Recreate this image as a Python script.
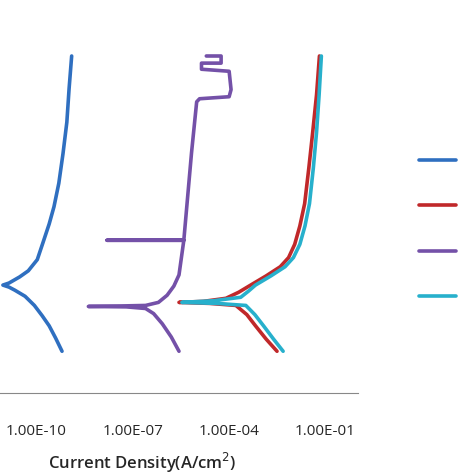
import numpy as np, pandas as pd, seaborn as sns, matplotlib
matplotlib.use("Agg")
import matplotlib.pyplot as plt
from matplotlib.lines import Line2D

sns.set_style("white")
plt.rcParams['font.family'] = ['Open Sans', 'DejaVu Sans']

blue_logi = [-8.90,-8.98,-9.05,-9.17,-9.30,-9.45,-9.60,-9.80,-9.97,-10.25,-10.52,-10.85,-11.04,-10.85,-10.67,-10.35,-10.06,-9.82,-9.60,-9.40,-9.20]
blue_e    = [0.19,0.03,-0.135,-0.29,-0.435,-0.55,-0.635,-0.73,-0.81,-0.865,-0.895,-0.925,-0.935,-0.945,-0.96,-0.99,-1.035,-1.085,-1.135,-1.195,-1.26]
purple_logi = [-5.56,-5.80,-6.08,-6.35,-6.60,-7.20,-8.38,-7.20,-6.60,-6.20,-5.93,-5.72,-5.56,-5.41,-7.80,-5.41,-5.17,-5.01,-4.92,-4.00,-3.94,-4.00,-4.86,-4.86,-4.25,-4.25,-4.71]
purple_e    = [-1.26,-1.19,-1.125,-1.075,-1.05,-1.042,-1.04,-1.037,-1.035,-1.02,-0.985,-0.94,-0.885,-0.715,-0.715,-0.715,-0.285,-0.035,-0.02,-0.01,0.025,0.115,0.125,0.155,0.155,0.19,0.19]
red_logi = [-1.19,-1.28,-1.40,-1.52,-1.65,-1.80,-1.96,-2.15,-2.41,-2.85,-3.33,-3.70,-4.10,-4.80,-5.56,-4.60,-3.79,-3.45,-3.18,-2.85,-2.51]
red_e    = [0.19,0.0,-0.185,-0.36,-0.535,-0.645,-0.735,-0.80,-0.845,-0.89,-0.935,-0.97,-1.0,-1.015,-1.02,-1.025,-1.035,-1.08,-1.135,-1.20,-1.26]
cyan_logi = [-1.13,-1.20,-1.28,-1.38,-1.50,-1.64,-1.80,-2.00,-2.26,-2.70,-3.18,-3.40,-3.64,-4.50,-5.47,-4.40,-3.48,-3.20,-2.93,-2.62,-2.32]
cyan_e    = [0.19,0.0,-0.185,-0.36,-0.535,-0.645,-0.735,-0.80,-0.845,-0.89,-0.935,-0.965,-0.995,-1.012,-1.02,-1.025,-1.035,-1.08,-1.135,-1.20,-1.26]
colors = ["#2f6fc0", "#c0282a", "#7451a8", "#27b0cc"]
ticks = [1e-10, 1e-7, 1e-4, 1e-1]
tick_labels = ["1.00E-10", "1.00E-07", "1.00E-04", "1.00E-01"]

fig = plt.figure(figsize=(4.74, 4.74), dpi=100)
ax = fig.add_axes([0, 81/474, 358/474, 393/474])
for lg, e, c in [(blue_logi, blue_e, colors[0]), (purple_logi, purple_e, colors[2]),
                 (red_logi, red_e, colors[1]), (cyan_logi, cyan_e, colors[3])]:
    df = pd.DataFrame({"i": 10 ** np.array(lg), "e": e})
    sns.lineplot(data=df, x="i", y="e", sort=False, estimator=None, color=c, lw=2.6, ax=ax)
ax.set_xscale("log")
ax.set_xlim(10 ** -11.13, 10 ** 0.01)
ax.set_ylim(-1.465, 0.465)
ax.set_yticks([])
ax.set_xticks(ticks)
ax.set_xticklabels(tick_labels, fontsize=11)
ax.minorticks_off()
ax.tick_params(axis="x", length=0, pad=22)
ax.set_xlabel(""); ax.set_ylabel("")
for s in ["top", "right", "left"]:
    ax.spines[s].set_visible(False)
ax.spines["bottom"].set_color("#888888")
ax.patch.set_alpha(0)
fig.text(142/474, 1 - 463/474, "Current Density(A/cm$^2$)", ha="center", va="center",
         fontsize=12, fontweight="semibold")
handles = [Line2D([], [], color=c, lw=2.6) for c in colors]
fig.legend(handles, ["", "", "", ""], loc="upper left", bbox_to_anchor=(408/474, 1 - 143/474),
           frameon=False, handlelength=2.9, labelspacing=2.6, fontsize=9)
fig.savefig("out.png", dpi=100)
